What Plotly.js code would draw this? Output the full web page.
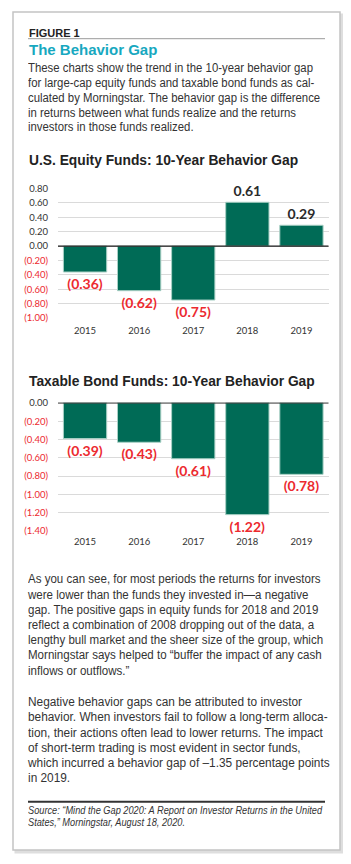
<!DOCTYPE html>
<html><head><meta charset="utf-8">
<script src="https://cdn.plot.ly/plotly-3.0.1.min.js"></script>
<style>
html,body{margin:0;padding:0;background:#fff;}
#wrap{position:relative;width:351px;height:864px;overflow:hidden;}
#chart{position:absolute;left:0;top:0;width:351px;height:864px;}
#text{position:absolute;left:0;top:0;width:351px;height:864px;pointer-events:none;}
.ln{position:absolute;left:28px;white-space:nowrap;color:#333;transform-origin:0 50%;
  font-family:"Liberation Sans", Arial, sans-serif;}
</style>
</head><body><div id="wrap"><div id="chart"></div><div id="text"></div></div>
<script>
const years = ['2015', '2016', '2017', '2018', '2019'];
const equityGap = [-0.36, -0.62, -0.75, 0.61, 0.29];
const bondGap = [-0.39, -0.43, -0.61, -1.22, -0.78];
const equityTicks = [0.8, 0.6, 0.4, 0.2, 0, -0.2, -0.4, -0.6, -0.8, -1.0];
const bondTicks = [0, -0.2, -0.4, -0.6, -0.8, -1.0, -1.2, -1.4];

const figureLabel = 'FIGURE 1';
const mainTitle = 'The Behavior Gap';
const introLines = [
  'These charts show the trend in the 10-year behavior gap',
  'for large-cap equity funds and taxable bond funds as cal-',
  'culated by Morningstar. The behavior gap is the difference',
  'in returns between what funds realize and the returns',
  'investors in those funds realized.'
];
const equityTitle = 'U.S. Equity Funds: 10-Year Behavior Gap';
const bondTitle = 'Taxable Bond Funds: 10-Year Behavior Gap';
const bodyLines1 = [
  'As you can see, for most periods the returns for investors',
  'were lower than the funds they invested in\u2014a negative',
  'gap. The positive gaps in equity funds for 2018 and 2019',
  'reflect a combination of 2008 dropping out of the data, a',
  'lengthy bull market and the sheer size of the group, which',
  'Morningstar says helped to \u201cbuffer the impact of any cash',
  'inflows or outflows.\u201d'
];
const bodyLines2 = [
  'Negative behavior gaps can be attributed to investor',
  'behavior. When investors fail to follow a long-term alloca-',
  'tion, their actions often lead to lower returns. The impact',
  'of short-term trading is most evident in sector funds,',
  'which incurred a behavior gap of \u20131.35 percentage points',
  'in 2019.'
];
const sourceLines = [
  'Source: \u201cMind the Gap 2020: A Report on Investor Returns in the United',
  'States,\u201d Morningstar, August 18, 2020.'
];

const W = 351, H = 864;
const px = x => x / W;
const py = y => 1 - y / H;
const RED = '#ec2a2f';
const DARK = '#2b2b2b';
const BAR = '#006b56';
const chartFont = 'Lato, "Open Sans", sans-serif';
const headFont = '"Liberation Sans", Arial, sans-serif';

const fmt = v => v < 0 ? '(' + Math.abs(v).toFixed(2) + ')' : v.toFixed(2);
const tickFmt = v => v < 0 ? '<span style="color:' + RED + '">' + fmt(v) + '</span>' : fmt(v);

function barTrace(vals, xa, ya) {
  return {
    type: 'bar', x: years, y: vals, xaxis: xa, yaxis: ya,
    marker: {color: BAR, line: {color: '#a9d0c5', width: 1}},
    text: vals.map(fmt), textposition: 'outside', cliponaxis: false,
    constraintext: 'none',
    textfont: {family: chartFont, size: 14, weight: 'bold', color: vals.map(v => v < 0 ? RED : DARK)},
    hoverinfo: 'skip', showlegend: false
  };
}

const data = [barTrace(equityGap, 'x', 'y'), barTrace(bondGap, 'x2', 'y2')];

const annotations = [];
function addTitle(text, y, font) {
  annotations.push({xref: 'paper', yref: 'paper', x: px(27), y: py(y), xanchor: 'left', yanchor: 'middle',
    showarrow: false, text: '<b>' + text + '</b>', font: font, align: 'left'});
}
addTitle(figureLabel, 32.7, {family: headFont, size: 11, color: '#222'});
addTitle(mainTitle, 50, {family: headFont, size: 15, color: '#17a8c0'});
addTitle(equityTitle, 161, {family: headFont, size: 13.8, color: '#222'});
addTitle(bondTitle, 381.7, {family: headFont, size: 13.8, color: '#222'});

const shapes = [
  {type: 'rect', xref: 'paper', yref: 'paper', x0: px(14.5), x1: px(343), y0: py(853.5), y1: py(13.5),
   fillcolor: '#dedede', line: {width: 0}, layer: 'below'},
  {type: 'rect', xref: 'paper', yref: 'paper', x0: px(13), x1: px(340), y0: py(850), y1: py(12),
   fillcolor: '#ffffff', line: {color: '#c4c4c4', width: 1.5}, layer: 'below'},
  {type: 'line', xref: 'paper', yref: 'paper', x0: px(28), x1: px(325), y0: py(38.7), y1: py(38.7),
   line: {color: '#9a9a9a', width: 1}},
  {type: 'line', xref: 'paper', yref: 'paper', x0: px(28), x1: px(325), y0: py(801.7), y1: py(801.7),
   line: {color: '#333', width: 2}},
  {type: 'line', xref: 'x domain', yref: 'y', x0: 0, x1: 1, y0: 0, y1: 0, line: {color: '#1a1a1a', width: 1.3}, layer: 'above'},
  {type: 'line', xref: 'x2 domain', yref: 'y2', x0: 0, x1: 1, y0: 0, y1: 0, line: {color: '#1a1a1a', width: 1.3}, layer: 'above'}
];

const xCommon = {type: 'category', showgrid: false, zeroline: false, showline: false, ticks: '',
  tickfont: {family: chartFont, size: 9.5, color: '#333'}, fixedrange: true};
const yCommon = {showgrid: true, gridcolor: '#dadada', gridwidth: 1, zeroline: false, showline: false, ticks: '',
  tickfont: {family: chartFont, size: 9.5, color: '#333'}, ticklabelstandoff: 9, fixedrange: true, tickmode: 'array'};

const layout = {
  width: W, height: H, margin: {l: 0, r: 0, t: 0, b: 0},
  paper_bgcolor: '#ffffff', plot_bgcolor: 'rgba(0,0,0,0)',
  bargap: 0.2, showlegend: false,
  xaxis: Object.assign({}, xCommon, {domain: [px(58), px(328.5)], anchor: 'y', ticklabelstandoff: 5}),
  yaxis: Object.assign({}, yCommon, {domain: [py(318.3), py(188.3)], anchor: 'x', range: [-1.004, 0.804],
    tickvals: equityTicks, ticktext: equityTicks.map(tickFmt)}),
  xaxis2: Object.assign({}, xCommon, {domain: [px(58), px(328.5)], anchor: 'y2', ticklabelstandoff: 3}),
  yaxis2: Object.assign({}, yCommon, {domain: [py(531.5), py(402.5)], anchor: 'x2', range: [-1.404, 0.004],
    tickvals: bondTicks, ticktext: bondTicks.map(tickFmt)}),
  annotations: annotations, shapes: shapes
};

Plotly.newPlot('chart', data, layout, {displayModeBar: false, staticPlot: true});

// Body copy (condensed, as in the print original)
const textLayer = document.getElementById('text');
function placeBlock(lines, y0, step, size, italic, targetFirstWidth) {
  const els = lines.map((t, i) => {
    const d = document.createElement('div');
    d.className = 'ln';
    d.textContent = t;
    d.style.fontSize = size + 'px';
    d.style.lineHeight = step + 'px';
    d.style.top = (y0 + i * step - step / 2) + 'px';
    if (italic) d.style.fontStyle = 'italic';
    textLayer.appendChild(d);
    return d;
  });
  const natural = els[0].getBoundingClientRect().width;
  const s = targetFirstWidth / natural;
  els.forEach(d => { d.style.transform = 'scaleX(' + s.toFixed(4) + ')'; });
}
placeBlock(introLines, 68.3, 14.9, 12.5, false, 285);
placeBlock(bodyLines1, 580, 15.2, 12.5, false, 292.5);
placeBlock(bodyLines2, 702.7, 15.2, 12.5, false, 274);
placeBlock(sourceLines, 810, 12.7, 10.5, true, 294);
</script>
</body></html>
